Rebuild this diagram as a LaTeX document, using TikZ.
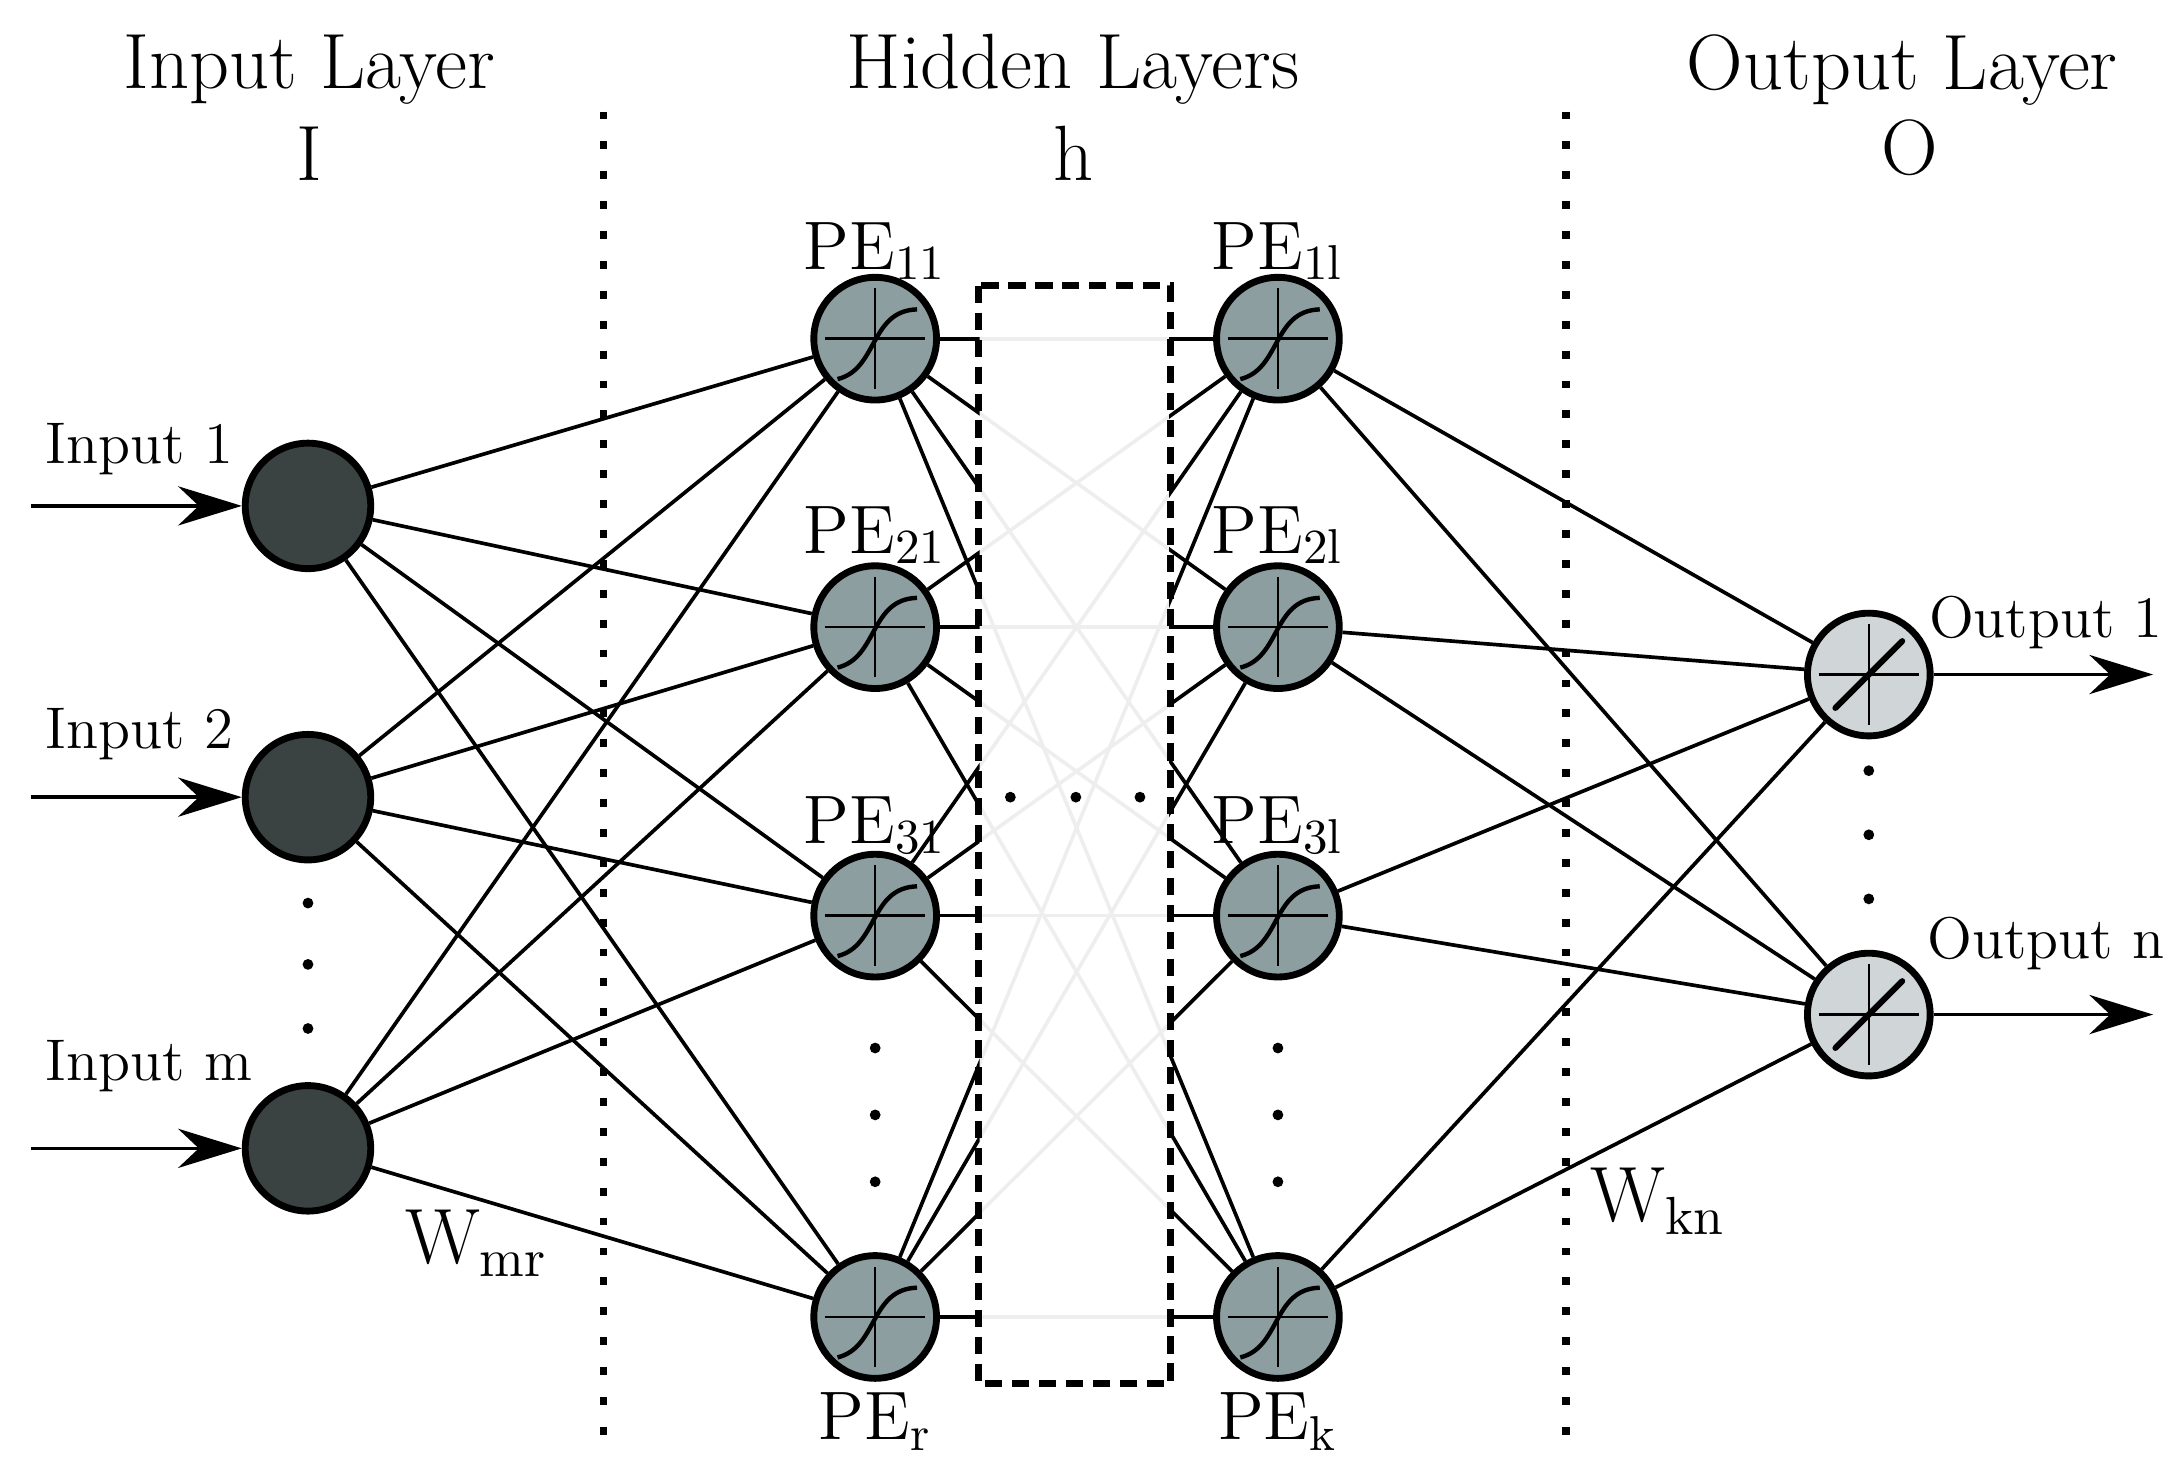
\documentclass[tikz,border=0pt]{standalone}
\usetikzlibrary{arrows.meta}
\definecolor{inpc}{HTML}{3A4242}
\definecolor{hidc}{HTML}{8C9EA0}
\definecolor{outc}{HTML}{D0D6D8}
\definecolor{faint}{HTML}{EEEEEE}
\begin{document}
\begin{tikzpicture}[x=0.01cm,y=-0.01cm,
  neuron/.style={circle,draw=black,line width=1.4pt,minimum size=0.88cm,inner sep=0pt},
  inp/.style={neuron,fill=inpc,minimum size=0.9cm},
  hid/.style={neuron,fill=hidc,path picture={
     \draw[line width=0.5pt] ([xshift=-0.36cm]path picture bounding box.center) -- ([xshift=0.36cm]path picture bounding box.center);
     \draw[line width=0.5pt] ([yshift=-0.36cm]path picture bounding box.center) -- ([yshift=0.36cm]path picture bounding box.center);
     \draw[line width=0.9pt] ([xshift=-0.27cm,yshift=-0.29cm]path picture bounding box.center) .. controls ([xshift=0.02cm,yshift=-0.22cm]path picture bounding box.center) and ([xshift=-0.04cm,yshift=0.2cm]path picture bounding box.center) .. ([xshift=0.3cm,yshift=0.21cm]path picture bounding box.center);}},
  outn/.style={neuron,fill=outc,path picture={
     \draw[line width=0.5pt] ([xshift=-0.36cm]path picture bounding box.center) -- ([xshift=0.36cm]path picture bounding box.center);
     \draw[line width=0.5pt] ([yshift=-0.36cm]path picture bounding box.center) -- ([yshift=0.36cm]path picture bounding box.center);
     \draw[line width=1.2pt,line cap=round] ([xshift=-0.24cm,yshift=-0.24cm]path picture bounding box.center) -- ([xshift=0.24cm,yshift=0.24cm]path picture bounding box.center);}},
  conn/.style={line width=0.75pt},
  arr/.style={line width=0.75pt,-{Stealth[length=13pt,width=8pt]}},
  title/.style={font=\fontsize{16}{19}\selectfont},
  pe/.style={font=\fontsize{14}{16}\selectfont},
  lab/.style={font=\fontsize{12}{14}\selectfont},
  dotsty/.style={circle,fill=black,inner sep=0pt,minimum size=2.2pt},
  sep/.style={line width=1.6pt,dash pattern=on 1.6pt off 4.5pt}
]
\useasboundingbox (0,0) rectangle (1560,1062);
% titles
\node[title] (t1) at (222,50) {Input Layer};
\node[title] (t1b) at (222,110) {I};
\node[title] (t2) at (770,50) {Hidden Layers};
\node[title] (t2b) at (770,110) {h};
\node[title] (t3) at (1365,50) {Output Layer};
\node[title] (t3b) at (1370,106) {O};
% separators
\coordinate (s1a) at (433,80); \coordinate (s1b) at (433,1032);
\coordinate (s2a) at (1124,80); \coordinate (s2b) at (1124,1032);
\draw[sep] (s1a) -- (s1b);
\draw[sep] (s2a) -- (s2b);
% nodes
\node[inp] (i1) at (221,363) {};
\node[inp] (i2) at (221,572) {};
\node[inp] (i3) at (221,824) {};
\foreach \n/\y in {1/243,2/450,3/657,4/945}{
  \node[hid] (a\n) at (628,\y) {};
  \node[hid] (b\n) at (917,\y) {};
}
\node[outn] (o1) at (1341,484) {};
\node[outn] (o2) at (1341,728) {};
% hidden-hidden connections
\begin{scope}
\clip (702,205) rectangle (840,993);
\foreach \p in {1,2,3,4}{\foreach \q in {1,2,3,4}{\draw[faint,line width=0.75pt] (a\p) -- (b\q);}}
\end{scope}
\begin{scope}
\clip (600,0) rectangle (703,1062) (839,0) rectangle (950,1062);
\foreach \p in {1,2,3,4}{\foreach \q in {1,2,3,4}{\draw[conn] (a\p) -- (b\q);}}
\end{scope}
\draw[line width=1.4pt,dash pattern=on 3.5pt off 2pt] (702,205) rectangle (840,993);
% input-hidden
\foreach \p in {1,2,3}{\foreach \q in {1,2,3,4}{\draw[conn] (i\p) -- (a\q);}}
% hidden-output
\foreach \p in {1,2,3,4}{\foreach \q in {1,2}{\draw[conn] (b\p) -- (o\q);}}
% input arrows
\coordinate (ia1) at (22,363); \coordinate (ia2) at (22,572); \coordinate (ia3) at (22,824);
\draw[arr] (ia1) -- (i1); \draw[arr] (ia2) -- (i2); \draw[arr] (ia3) -- (i3);
\coordinate (oa1) at (1545,484); \coordinate (oa2) at (1545,728);
\draw[arr] (o1) -- (oa1); \draw[arr] (o2) -- (oa2);
% labels
\node[lab] (l1) at (100,322) {Input 1};
\node[lab] (l2) at (100,527) {Input 2};
\node[lab] (l3) at (107,765) {Input m};
\node[lab] (lo1) at (1468,447) {Output 1};
\node[lab] (lo2) at (1468,677) {Output n};
\node[pe] (p1) at (628,180) {PE$_{\mathrm{11}}$};
\node[pe] (p2) at (628,384) {PE$_{\mathrm{21}}$};
\node[pe] (p3) at (628,592) {PE$_{\mathrm{31}}$};
\node[pe] (p4) at (628,1020) {PE$_{\mathrm{r}}$};
\node[pe] (q1) at (917,180) {PE$_{\mathrm{1l}}$};
\node[pe] (q2) at (917,384) {PE$_{\mathrm{2l}}$};
\node[pe] (q3) at (917,592) {PE$_{\mathrm{3l}}$};
\node[pe] (q4) at (917,1020) {PE$_{\mathrm{k}}$};
\node[title] (w1) at (342,892) {W$_{\mathrm{mr}}$};
\node[title] (w2) at (1190,862) {W$_{\mathrm{kn}}$};
% dots
\foreach \y [count=\k] in {648,692,738}{\node[dotsty] (di\k) at (221,\y) {};}
\foreach \y [count=\k] in {752,800,848}{\node[dotsty] (da\k) at (628,\y) {}; \node[dotsty] (db\k) at (917,\y) {};}
\foreach \x [count=\k] in {725,772,818}{\node[dotsty] (dm\k) at (\x,572) {};}
\foreach \y [count=\k] in {553,599,645}{\node[dotsty] (do\k) at (1341,\y) {};}
\end{tikzpicture}
\end{document}
